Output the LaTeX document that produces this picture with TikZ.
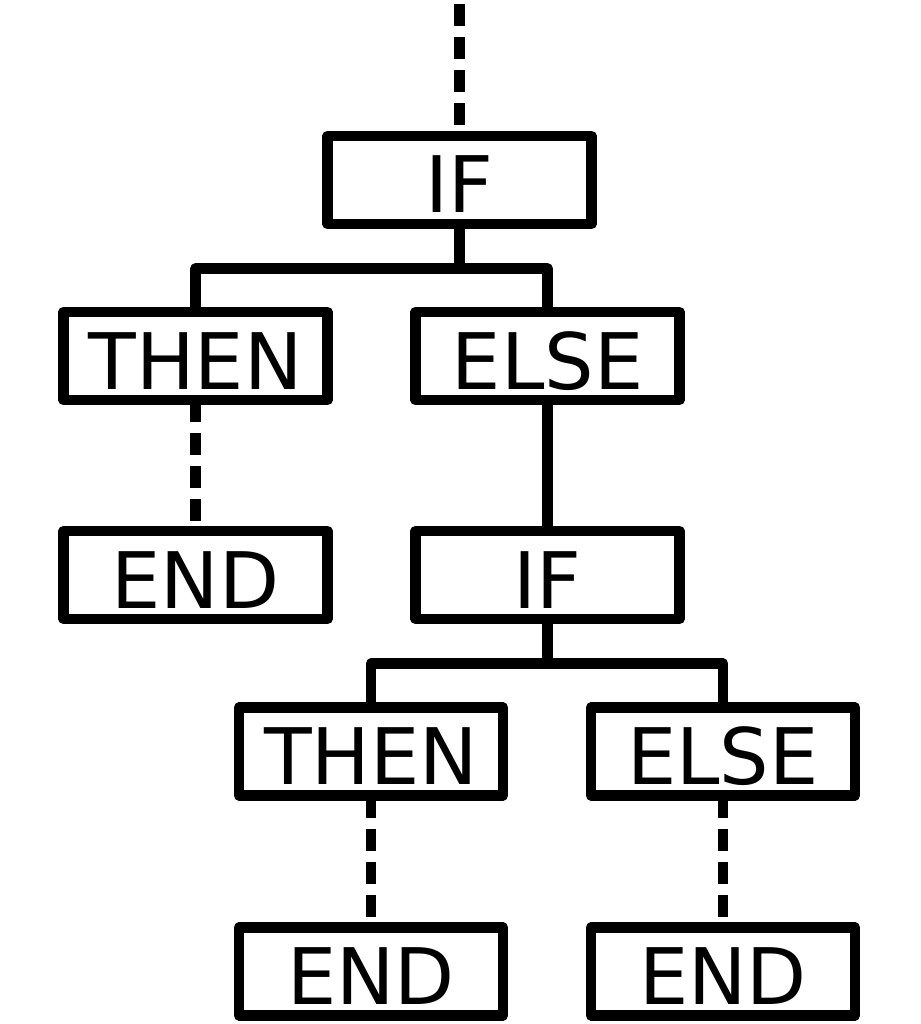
\documentclass[tikz,border=0pt]{standalone}
\usepackage{fontspec}
\setmainfont{DejaVu Sans}
\begin{document}
\begin{tikzpicture}[x=1pt,y=-1pt,line width=10.5pt,line join=round,
  box/.style={draw,line width=10.5pt,minimum width=264pt,minimum height=88pt,
    inner sep=0pt,outer sep=0pt,text height=66pt,text depth=0pt,
    font=\fontsize{78}{80}\selectfont},
  dashline/.style={dash pattern=on 22pt off 11pt}]
\useasboundingbox[fill=white] (0,0) rectangle (920,1024);
\node[box] (if1)   at (459.5,180)   {IF};
\node[box] (then1) at (195.5,356)   {THEN};
\node[box] (else1) at (547.5,356)   {ELSE};
\node[box] (end1)  at (195.5,575)   {END};
\node[box] (if2)   at (547.5,575)   {IF};
\node[box] (then2) at (371,751.5)   {THEN};
\node[box] (else2) at (723,751.5)   {ELSE};
\node[box] (end2)  at (371,971.5)   {END};
\node[box] (end3)  at (723,971.5)   {END};
\coordinate (top) at (459.5,4);
\coordinate (j1) at (459.5,268.5);
\coordinate (j2) at (547.5,663.5);
\draw[dashline] (top) -- (if1.north);
\draw (if1.south) -- (j1);
\draw (then1.north) -- (then1.north |- j1) -- (else1.north |- j1) -- (else1.north);
\draw[dashline] (then1.south) -- (end1.north);
\draw (else1.south) -- (if2.north);
\draw (if2.south) -- (j2);
\draw (then2.north) -- (then2.north |- j2) -- (else2.north |- j2) -- (else2.north);
\draw[dashline] (then2.south) -- (end2.north);
\draw[dashline] (else2.south) -- (end3.north);
\end{tikzpicture}
\end{document}
